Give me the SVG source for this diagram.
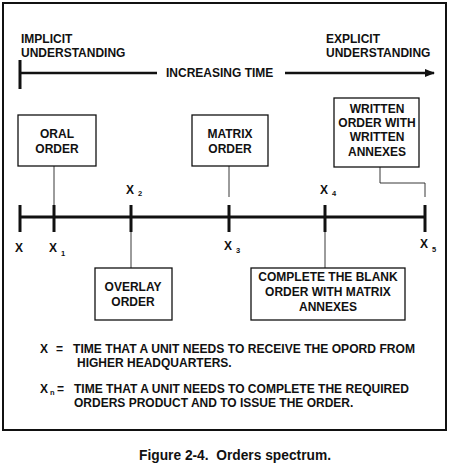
<svg xmlns="http://www.w3.org/2000/svg" width="450" height="471" viewBox="0 0 450 471">
<defs>
<style>
text{font-family:"Liberation Sans",Arial,sans-serif;font-weight:bold;fill:#111}
.t{font-size:12px}
.c{text-anchor:middle}
.s{font-size:7.5px}
.box{fill:#fff;stroke:#111;stroke-width:1.3}
.ln{fill:none;stroke:#222;stroke-width:0.9}
.tl{stroke:#111;stroke-width:3;fill:none}
</style>
<marker id="ah" viewBox="0 0 10 10" refX="9" refY="5" markerWidth="4" markerHeight="4" orient="auto" markerUnits="strokeWidth"><path d="M0,1 L10,5 L0,9 Z" fill="#111"/></marker>
</defs>
<rect x="0" y="0" width="450" height="471" fill="#fff"/>
<rect x="3" y="3" width="443" height="427" fill="none" stroke="#111" stroke-width="2"/>
<g id="header">
<text class="t" x="21" y="43">IMPLICIT</text>
<text class="t" x="21" y="57">UNDERSTANDING</text>
<text class="t" x="326" y="43">EXPLICIT</text>
<text class="t" x="326" y="57">UNDERSTANDING</text>
<text class="t" x="166" y="77">INCREASING TIME</text>
</g>
<g id="connectors">
<line class="tl" x1="20" y1="60" x2="20" y2="89"/>
<line x1="20" y1="73" x2="157" y2="73" stroke="#111" stroke-width="2.5"/>
<line x1="285" y1="73" x2="434" y2="73" stroke="#111" stroke-width="2.5" marker-end="url(#ah)"/>
<line class="tl" x1="20" y1="217" x2="425" y2="217"/>
<line class="tl" x1="20" y1="205" x2="20" y2="232"/>
<line class="tl" x1="54" y1="205" x2="54" y2="232"/>
<line class="tl" x1="131" y1="205" x2="131" y2="232"/>
<line class="tl" x1="229" y1="205" x2="229" y2="232"/>
<line class="tl" x1="325" y1="205" x2="325" y2="232"/>
<line class="tl" x1="425" y1="205" x2="425" y2="232"/>
<line class="ln" x1="54" y1="166" x2="54" y2="205"/>
<line class="ln" x1="229" y1="166" x2="229" y2="197"/>
<polyline class="ln" points="380,167 380,183 425,183 425,197"/>
<line class="ln" x1="131" y1="232" x2="131" y2="268"/>
<line class="ln" x1="325" y1="232" x2="325" y2="268"/>
</g>
<g id="labels">
<text class="t" x="15" y="252">X</text>
<text class="t" x="49" y="252">X</text><text class="s" x="61" y="256">1</text>
<text class="t" x="126" y="194">X</text><text class="s" x="138" y="196">2</text>
<text class="t" x="224" y="250">X</text><text class="s" x="236" y="253">3</text>
<text class="t" x="320" y="194">X</text><text class="s" x="332" y="196">4</text>
<text class="t" x="420" y="248">X</text><text class="s" x="432" y="252">5</text>
</g>
<g id="oral">
<rect class="box" x="18" y="115" width="78" height="51"/>
<text class="t c" x="57" y="138">ORAL</text>
<text class="t c" x="57" y="153">ORDER</text>
</g>
<g id="matrix">
<rect class="box" x="192" y="115" width="76" height="51"/>
<text class="t c" x="230" y="138">MATRIX</text>
<text class="t c" x="230" y="153">ORDER</text>
</g>
<g id="written">
<rect class="box" x="334" y="98" width="85" height="69"/>
<text class="t c" x="377" y="113">WRITTEN</text>
<text class="t c" x="377" y="127">ORDER WITH</text>
<text class="t c" x="377" y="141">WRITTEN</text>
<text class="t c" x="377" y="156">ANNEXES</text>
</g>
<g id="overlay">
<rect class="box" x="95" y="268" width="77" height="52"/>
<text class="t c" x="133" y="291">OVERLAY</text>
<text class="t c" x="133" y="306">ORDER</text>
</g>
<g id="complete">
<rect class="box" x="251" y="268" width="154" height="52"/>
<text class="t c" x="328" y="281">COMPLETE THE BLANK</text>
<text class="t c" x="328" y="296">ORDER WITH MATRIX</text>
<text class="t c" x="328" y="311">ANNEXES</text>
</g>
<g id="legend">
<text class="t" x="40" y="353">X</text>
<text class="t" x="56" y="353">=</text>
<text class="t" x="73" y="353" textLength="342" lengthAdjust="spacingAndGlyphs">TIME THAT A UNIT NEEDS TO RECEIVE THE OPORD FROM</text>
<text class="t" x="77" y="367">HIGHER HEADQUARTERS.</text>
<text class="t" x="40" y="393">X</text><text class="s" x="50" y="395">n</text>
<text class="t" x="57" y="393">=</text>
<text class="t" x="74" y="393" textLength="335" lengthAdjust="spacingAndGlyphs">TIME THAT A UNIT NEEDS TO COMPLETE THE REQUIRED</text>
<text class="t" x="74" y="407">ORDERS PRODUCT AND TO ISSUE THE ORDER.</text>
</g>
<text x="139" y="460" style="font-size:14px" textLength="192" lengthAdjust="spacingAndGlyphs">Figure 2-4.&#160; Orders spectrum.</text>
</svg>
